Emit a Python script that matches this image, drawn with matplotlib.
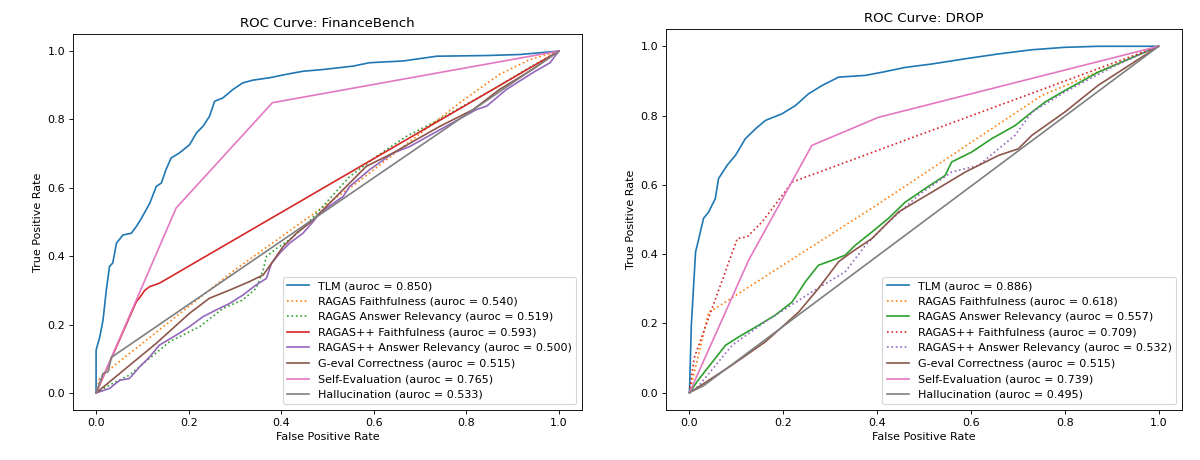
import matplotlib
matplotlib.use("Agg")
import matplotlib.pyplot as plt

labels = ["TLM", "RAGAS Faithfulness", "RAGAS Answer Relevancy", "RAGAS++ Faithfulness",
          "RAGAS++ Answer Relevancy", "G-eval Correctness", "Self-Evaluation", "Hallucination"]
colors = ["C0", "C1", "C2", "C3", "C4", "C5", "C6", "C7"]

# FinanceBench
fb_auroc = [0.850, 0.540, 0.519, 0.593, 0.500, 0.515, 0.765, 0.533]
fb_styles = ["-", ":", ":", "-", "-", "-", "-", "-"]

fb_tlm_fpr = [0, 0, .008, .015, .022, .029, .036, .044, .058, .076, .087, .098, .116, .130, .141, .151,
              .162, .180, .202, .217, .231, .245, .256, .274, .296, .317, .339, .375, .411, .447, .490,
              .555, .591, .663, .736, .844, .916, 1]
fb_tlm_tpr = [0, .125, .164, .213, .30, .37, .38, .438, .462, .467, .487, .511, .555, .604, .614, .653,
              .687, .702, .726, .761, .780, .809, .853, .863, .888, .907, .915, .922, .932, .941, .946,
              .956, .966, .971, .985, .987, .990, 1]
fb_rf_fpr = [0, .007, .018, .30, .563, .786, .872, .937, 1]
fb_rf_tpr = [0, .04, .057, .36, .614, .849, .932, .975, 1]
fb_ra_fpr = [0, .029, .072, .159, .224, .274, .317, .346, .361, .368, .39, .418, .454, .548, .606,
             .671, .728, .793, .858, .93, 1]
fb_ra_tpr = [0, .023, .052, .15, .194, .247, .272, .306, .36, .399, .423, .448, .492, .633, .692,
             .751, .79, .839, .888, .947, 1]
fb_pf_fpr = [0, .087, .095, .105, .116, .137, 1]
fb_pf_tpr = [0, .267, .28, .30, .311, .321, 1]
fb_pa_fpr = [0, .029, .051, .072, .094, .116, .137, .173, .202, .231, .26, .289, .317, .346, .368,
             .379, .397, .418, .447, .469, .483, .534, .548, .591, .642, .678, .743, .822, .844,
             .887, .944, .981, 1]
fb_pa_tpr = [0, .013, .037, .042, .076, .106, .14, .169, .194, .223, .243, .262, .286, .316, .335,
             .379, .409, .438, .467, .501, .526, .575, .604, .653, .702, .721, .770, .829, .839,
             .888, .937, .966, 1]
fb_ge_fpr = [0, .130, .202, .245, .289, .332, .361, .379, .404, .433, .465, .512, .584, .642, .692,
             .743, .815, .872, .944, 1]
fb_ge_tpr = [0, .145, .233, .277, .301, .326, .345, .379, .428, .467, .501, .565, .663, .702, .741,
             .78, .829, .888, .947, 1]
fb_se_fpr = [0, .173, .381, 1]
fb_se_tpr = [0, .541, .849, 1]
fb_ha_fpr = [0, .015, .026, .033, 1]
fb_ha_tpr = [0, .057, .062, .104, 1]

# DROP
dr_auroc = [0.886, 0.618, 0.557, 0.709, 0.532, 0.515, 0.739, 0.495]
dr_styles = ["-", ":", "-", ":", ":", "-", "-", "-"]

dr_tlm_fpr = [0, .004, .013, .02, .03, .041, .055, .062, .08, .098, .119, .141, .162, .197, .226,
              .254, .283, .318, .375, .41, .46, .517, .588, .659, .73, .80, .871, 1]
dr_tlm_tpr = [0, .195, .406, .445, .503, .522, .56, .618, .656, .685, .733, .762, .786, .805, .829,
              .863, .887, .911, .916, .925, .939, .949, .964, .978, .99, .997, 1.0, 1]
dr_rf_fpr = [0, .041, .055, .403, .751, 1]
dr_rf_tpr = [0, .233, .243, .545, .858, 1]
dr_ra_fpr = [0, .02, .055, .077, .105, .148, .183, .219, .247, .275, .304, .332, .353, .389, .424,
             .46, .502, .545, .559, .602, .644, .694, .73, .758, .8, .871, 1]
dr_ra_tpr = [0, .039, .099, .137, .161, .195, .224, .262, .32, .368, .382, .397, .425, .464, .503,
             .55, .589, .627, .666, .695, .733, .771, .81, .839, .872, .925, 1]
dr_pf_fpr = [0, .01, .102, .123, .155, .219, 1]
dr_pf_tpr = [0, .1, .445, .45, .493, .608, 1]
dr_pa_fpr = [0, .02, .091, .162, .261, .332, .375, .417, .488, .559, .616, .659, .694, .73, .80,
             .907, 1]
dr_pa_tpr = [0, .02, .137, .205, .291, .349, .425, .483, .57, .637, .656, .704, .743, .81, .868,
             .944, 1]
dr_ge_fpr = [0, .02, .091, .162, .233, .275, .318, .346, .389, .446, .517, .588, .659, .701, .73,
             .80, .871, 1]
dr_ge_tpr = [0, .017, .08, .147, .233, .301, .378, .406, .445, .522, .579, .637, .685, .704, .743,
             .81, .887, 1]
dr_se_fpr = [0, .126, .261, .403, 1]
dr_se_tpr = [0, .382, .714, .795, 1]
dr_ha_fpr = [0, .03, 1]
dr_ha_tpr = [0, .02, 1]

fb_curves = [(fb_tlm_fpr, fb_tlm_tpr), (fb_rf_fpr, fb_rf_tpr), (fb_ra_fpr, fb_ra_tpr),
             (fb_pf_fpr, fb_pf_tpr), (fb_pa_fpr, fb_pa_tpr), (fb_ge_fpr, fb_ge_tpr),
             (fb_se_fpr, fb_se_tpr), (fb_ha_fpr, fb_ha_tpr)]
dr_curves = [(dr_tlm_fpr, dr_tlm_tpr), (dr_rf_fpr, dr_rf_tpr), (dr_ra_fpr, dr_ra_tpr),
             (dr_pf_fpr, dr_pf_tpr), (dr_pa_fpr, dr_pa_tpr), (dr_ge_fpr, dr_ge_tpr),
             (dr_se_fpr, dr_se_tpr), (dr_ha_fpr, dr_ha_tpr)]

fig = plt.figure(figsize=(15, 5.75), dpi=80)
ax1 = fig.add_axes([0.0608, 0.1087, 0.4242, 0.8174])
ax2 = fig.add_axes([0.555, 0.1087, 0.43, 0.8283])


def draw(ax, title, curves, aurocs, styles):
    for i, (fpr, tpr) in enumerate(curves):
        ax.plot(fpr, tpr, color=colors[i], linestyle=styles[i],
                label=f"{labels[i]} (auroc = {aurocs[i]:.3f})")
    ax.set_title(title)
    ax.set_xlabel("False Positive Rate")
    ax.set_ylabel("True Positive Rate")
    ax.legend(loc="lower right")


draw(ax1, "ROC Curve: FinanceBench", fb_curves, fb_auroc, fb_styles)
draw(ax2, "ROC Curve: DROP", dr_curves, dr_auroc, dr_styles)

fig.savefig("out.png", dpi=80)
